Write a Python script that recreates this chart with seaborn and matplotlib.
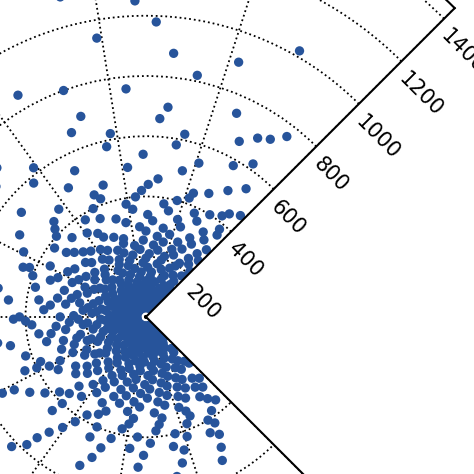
import numpy as np
import pandas as pd
import seaborn as sns
import matplotlib
matplotlib.use("Agg")
import matplotlib.pyplot as plt

sns.set_style("white")

# ring radii and the angles (degrees) of points on each ring
ring_r = [30, 60, 90, 120, 150, 180, 210, 240, 270, 300, 340, 380, 420, 460, 500, 540, 580, 620, 660, 700]
ring_angles = [
    [50, 75, 95, 120, 140, 160, 185, 200, 225, 250, 270, 290, 305],
    [48, 62, 80, 98, 112, 130, 145, 160, 172, 190, 205, 220, 236, 250, 262, 280, 296, 310],
    [55, 70, 88, 101, 117, 128, 142, 156, 168, 181, 196, 210, 226, 241, 255, 270, 283, 298, 312],
    [47, 60, 76, 90, 104, 119, 133, 150, 163, 178, 191, 204, 218, 232, 246, 259, 274, 288, 301],
    [52, 66, 83, 96, 110, 126, 139, 153, 170, 183, 199, 214, 229, 243, 257, 268, 281, 294, 308],
    [49, 64, 78, 93, 109, 121, 137, 148, 166, 176, 193, 207, 222, 238, 252, 264, 278, 292, 306],
    [46, 58, 73, 87, 102, 115, 131, 144, 158, 174, 187, 202, 216, 234, 248, 261, 276, 290, 304, 313],
    [54, 69, 84, 99, 113, 127, 146, 162, 179, 197, 212, 228, 244, 260, 273, 287, 300],
    [51, 67, 82, 106, 124, 138, 155, 171, 189, 206, 224, 240, 256, 271, 285, 299, 311],
    [48, 61, 79, 94, 118, 134, 150, 168, 186, 201, 219, 237, 253, 266, 282, 296, 309],
    [56, 72, 89, 107, 125, 141, 159, 176, 194, 211, 231, 247, 263, 279, 293, 307],
    [50, 65, 81, 100, 122, 143, 165, 184, 203, 221, 239, 258, 275, 291, 305],
    [53, 70, 92, 111, 136, 157, 180, 198, 217, 236, 254, 272, 289, 303],
    [47, 63, 85, 108, 129, 152, 173, 192, 213, 233, 251, 269, 286, 302],
    [57, 76, 97, 121, 147, 169, 190, 209, 230, 249, 267, 284, 300],
    [52, 71, 91, 116, 140, 163, 187, 208, 228, 246, 265, 281, 298],
    [60, 80, 103, 130, 158, 182, 206, 227, 248, 268, 288],
    [55, 78, 101, 127, 153, 178, 200, 224, 245, 262, 285],
    [62, 86, 112, 139, 166, 195, 220, 243, 270],
    [58, 84, 108, 135, 160, 190, 215, 240, 265],
]
# intermediate rings, denser near the centre
ring2_r = [45, 75, 105, 135, 165, 195, 225, 255, 285, 320, 360, 400, 440]
ring2_angles = [
    [57, 86, 108, 131, 152, 177, 213, 238, 262, 281, 299],
    [54, 71, 89, 104, 122, 137, 153, 166, 184, 199, 214, 231, 245, 258, 274, 291, 306],
    [50, 65, 81, 95, 110, 124, 139, 151, 163, 176, 188, 202, 218, 234, 249, 263, 277, 289, 303],
    [53, 68, 84, 99, 115, 127, 145, 158, 171, 185, 197, 211, 224, 239, 252, 266, 280, 295, 309],
    [57, 72, 88, 103, 118, 132, 146, 161, 174, 189, 204, 219, 235, 250, 263, 276, 288, 302],
    [45, 60, 75, 90, 106, 117, 134, 152, 171, 186, 202, 218, 230, 245, 258, 272, 286, 300, 311],
    [51, 66, 80, 95, 109, 123, 139, 154, 168, 182, 195, 209, 223, 240, 254, 269, 283, 296],
    [47, 62, 77, 92, 107, 120, 135, 151, 166, 184, 201, 220, 236, 251, 266, 280, 294, 307],
    [58, 74, 90, 112, 130, 146, 162, 180, 196, 215, 232, 248, 262, 278, 292, 305],
    [53, 69, 86, 102, 120, 138, 156, 173, 190, 207, 226, 243, 259, 275, 290, 304],
    [49, 62, 78, 97, 115, 133, 152, 171, 189, 207, 225, 244, 261, 277, 294, 310],
    [58, 75, 95, 116, 138, 160, 182, 205, 226, 246, 266, 284, 301],
    [51, 69, 89, 113, 134, 158, 181, 204, 225, 245, 263, 282, 299],
]
# sparse outer points (radius, angle)
outer_r = [760, 800, 820, 850, 880, 900, 940, 980, 1020, 1050, 1100, 1150, 1200, 1250, 1300, 780, 860, 960, 1080, 1180, 740, 720, 760]
outer_a = [95, 110, 78, 120, 84, 70, 100, 88, 60, 92, 105, 80, 95, 86, 75, 135, 150, 130, 118, 108, 66, 55, 52]

r_all = ([r for r, angs in zip(ring_r, ring_angles) for _ in angs]
         + [r for r, angs in zip(ring2_r, ring2_angles) for _ in angs] + outer_r)
a_all = ([a for angs in ring_angles for a in angs]
         + [a for angs in ring2_angles for a in angs] + outer_a)
df = pd.DataFrame({"theta": np.deg2rad(a_all), "r": r_all})

fig = plt.figure(figsize=(4.74, 4.74), dpi=100)
ax = fig.add_axes([-0.766, -0.770, 1.878, 2.203], projection="polar")
sns.scatterplot(data=df, x="theta", y="r", ax=ax, color="#27549b", s=45,
                edgecolor="none", legend=False)
ax.set_thetamin(45)
ax.set_thetamax(315)
ax.set_rlim(0, 1450)
ax.set_rticks([0, 200, 400, 600, 800, 1000, 1200, 1400])
ax.set_thetagrids(np.arange(45, 316, 27), labels=[])
ax.grid(True, color="black", linestyle=":", linewidth=1.3)
ax.set_xlabel("")
ax.set_ylabel("")
ax.tick_params(axis="y", labelsize=15, labelcolor="black", labelrotation=-45, pad=4)
for s in ax.spines.values():
    s.set_color("black")
    s.set_linewidth(1.5)
fig.savefig("out.png", dpi=100)
